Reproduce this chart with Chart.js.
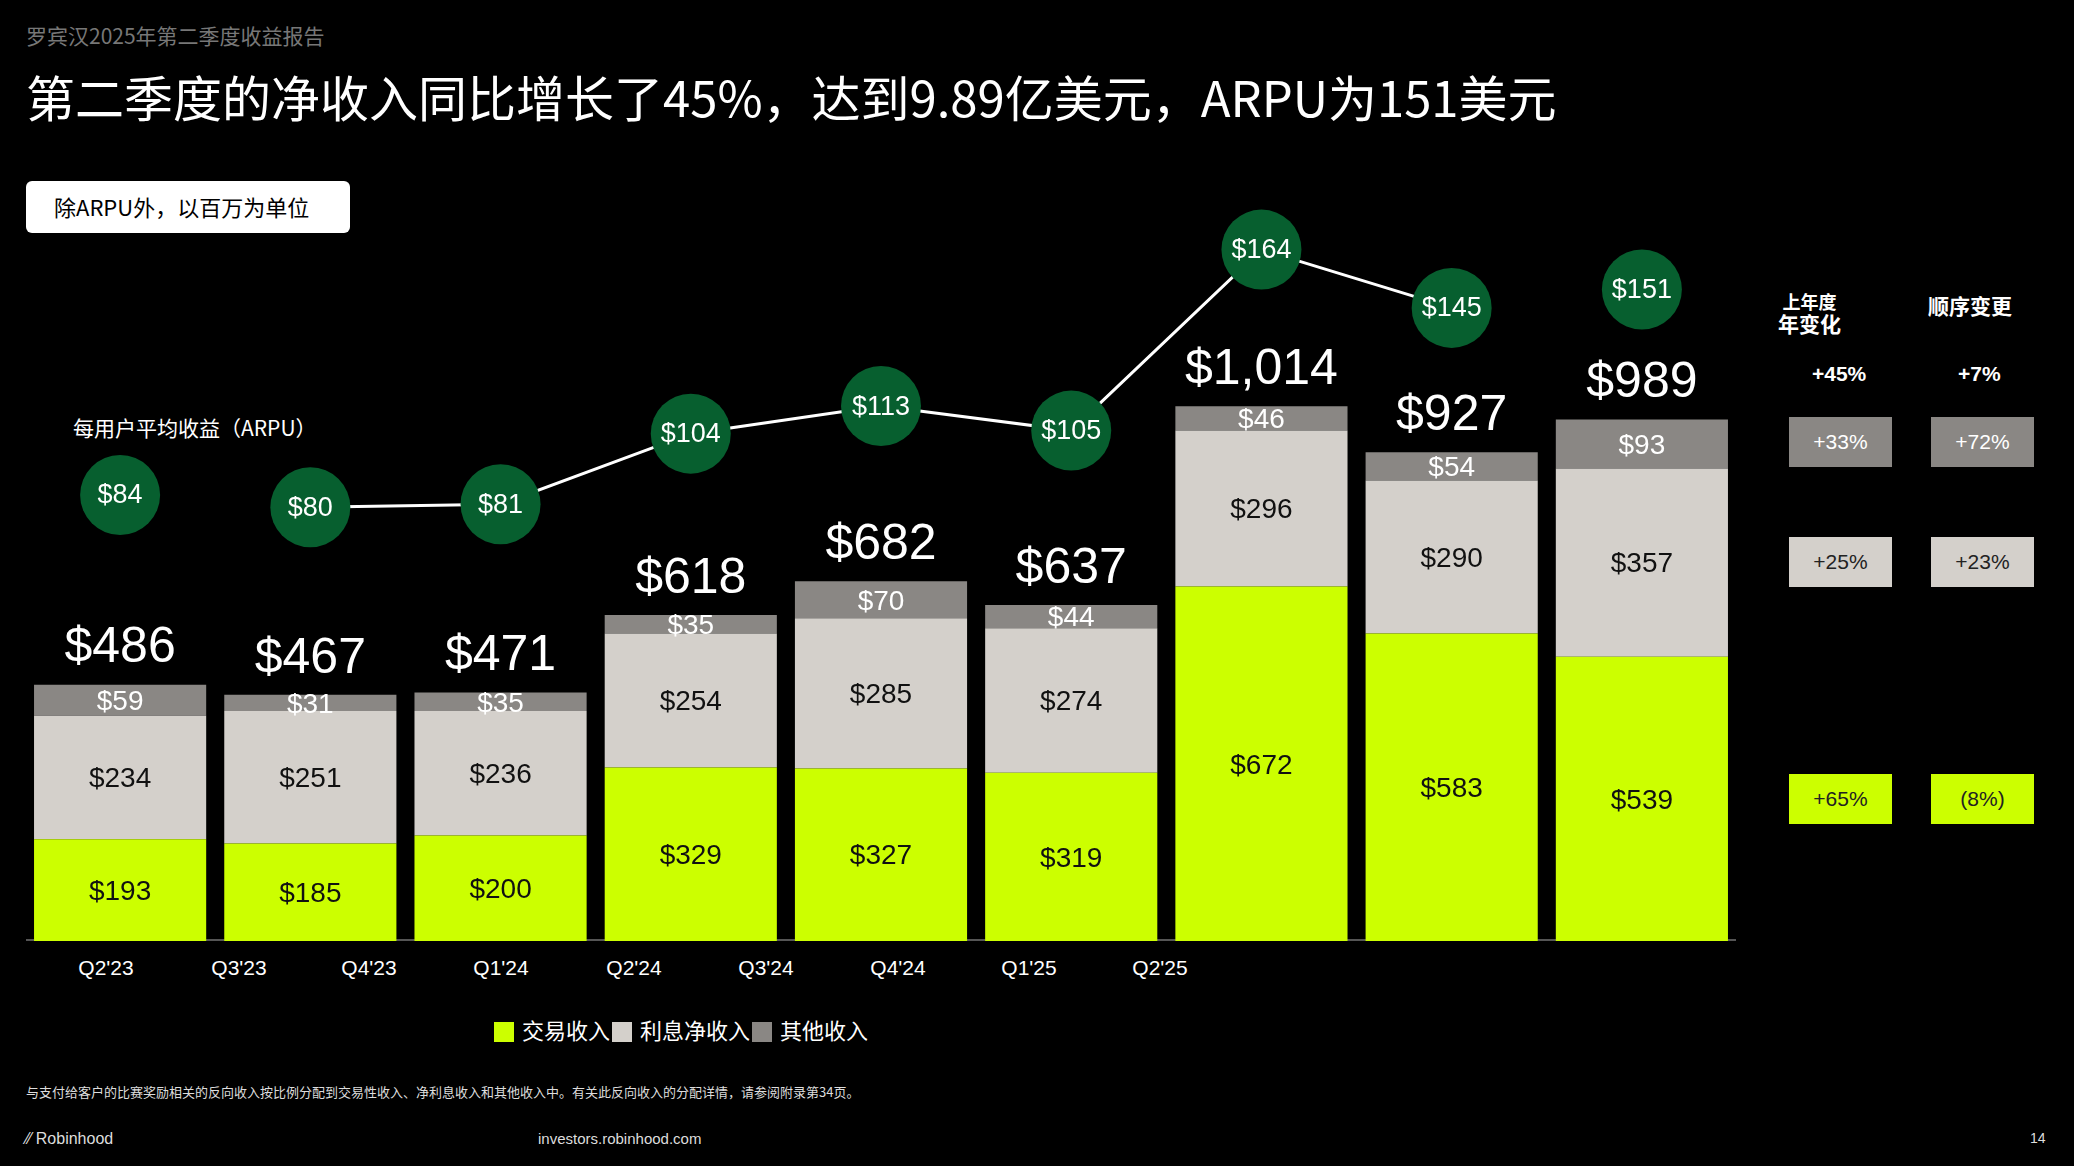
<!DOCTYPE html>
<html>
<head>
<meta charset="utf-8">
<script src="https://cdn.jsdelivr.net/npm/chart.js@4"></script>
<style>
  body { margin: 0; background: #000; width: 2074px; height: 1166px; overflow: hidden; position: relative;
         font-family: "Noto Sans CJK SC", "Noto Sans", sans-serif; color: #fff; }
  .abs { position: absolute; white-space: nowrap; }
  .tag { position: absolute; width: 103px; height: 50px; line-height: 50px; text-align: center; font-size: 21px; font-family: "Liberation Sans", sans-serif; }
  .xl { position: absolute; top: 956px; font-size: 21px; font-family: "Liberation Sans", sans-serif; transform: translateX(-50%); }
  .sw { display: inline-block; width: 20px; height: 20px; vertical-align: -3px; margin-right: 8px; }
</style>
</head>
<body>
<div class="abs" style="left:26px;top:20px;font-size:21px;color:#777;">罗宾汉2025年第二季度收益报告</div>
<div class="abs" style="left:26px;top:60px;font-size:49px;">第二季度的净收入同比增长了45%，达到9.89亿美元，ARPU为151美元</div>
<div class="abs" style="left:26px;top:181px;width:324px;height:52px;background:#fff;border-radius:6px;color:#000;font-size:22px;line-height:50px;text-indent:28px;">除ARPU外，以百万为单位</div>
<div class="abs" style="left:73px;top:412px;font-size:21px;">每用户平均收益（ARPU）</div>

<div class="abs" style="left:1778px;top:290px;font-size:18px;line-height:22px;text-align:center;font-weight:bold;">上年度<br><span style="font-size:21px">年变化</span></div>
<div class="abs" style="left:1928px;top:290px;font-size:21px;font-weight:bold;">顺序变更</div>
<div class="abs" style="left:1812px;top:362px;font-size:21px;font-weight:bold;font-family:'Liberation Sans';">+45%</div>
<div class="abs" style="left:1958px;top:362px;font-size:21px;font-weight:bold;font-family:'Liberation Sans';">+7%</div>
<div class="tag" style="left:1789px;top:417px;background:#8a8784;color:#fff;">+33%</div>
<div class="tag" style="left:1931px;top:417px;background:#8a8784;color:#fff;">+72%</div>
<div class="tag" style="left:1789px;top:537px;background:#d4d0cb;color:#222;">+25%</div>
<div class="tag" style="left:1931px;top:537px;background:#d4d0cb;color:#222;">+23%</div>
<div class="tag" style="left:1789px;top:774px;background:#ccff00;color:#222;">+65%</div>
<div class="tag" style="left:1931px;top:774px;background:#ccff00;color:#222;">(8%)</div>

<div class="abs" style="left:26px;top:939px;width:1710px;height:2px;background:#555;"></div>
<div id="xlabels"></div>

<div class="abs" style="left:494px;top:1013px;font-size:22px;">
  <span class="sw" style="background:#ccff00"></span>交易收入<span class="sw" style="background:#d4d0cb;margin-left:2px"></span>利息净收入<span class="sw" style="background:#8a8784;margin-left:2px"></span>其他收入
</div>

<div class="abs" style="left:26px;top:1082px;font-size:13px;color:#ddd;">与支付给客户的比赛奖励相关的反向收入按比例分配到交易性收入、净利息收入和其他收入中。有关此反向收入的分配详情，请参阅附录第34页。</div>
<div class="abs" style="left:26px;top:1130px;font-size:16px;color:#ddd;font-family:'Liberation Sans';">⁄⁄ Robinhood</div>
<div class="abs" style="left:538px;top:1130px;font-size:15px;color:#ddd;font-family:'Liberation Sans';">investors.robinhood.com</div>
<div class="abs" style="left:2030px;top:1130px;font-size:14px;color:#ddd;font-family:'Liberation Sans';">14</div>

<!-- canvas is 41px larger on each side: Chart.js pads the area for the big ARPU points -->
<div class="abs" style="left:-15px;top:159px;width:1792px;height:822px;"><canvas id="c"></canvas></div>

<script>
const quarters = ["Q2'23", "Q3'23", "Q4'23", "Q1'24", "Q2'24", "Q3'24", "Q4'24", "Q1'25", "Q2'25"];
const transaction = [193, 185, 200, 329, 327, 319, 672, 583, 539];
const netInterest = [234, 251, 236, 254, 285, 274, 296, 290, 357];
const other = [59, 31, 35, 35, 70, 44, 46, 54, 93];
const totals = [486, 467, 471, 618, 682, 637, 1014, 927, 989];
const arpu = [84, 80, 81, 104, 113, 105, 164, 145, 151];
const xLabelPos = [106, 239, 369, 501, 634, 766, 898, 1029, 1160];

// x labels sit offset from the bars in the original slide
document.getElementById('xlabels').innerHTML = quarters.map((q, i) =>
  `<div class="xl" style="left:${xLabelPos[i]}px">${q}</div>`).join('');

const fmt = v => '$' + v.toLocaleString('en-US');

const labelPlugin = {
  id: 'labels',
  afterDatasetsDraw(chart) {
    const ctx = chart.ctx;
    ctx.save();
    ctx.textAlign = 'center';
    ctx.textBaseline = 'middle';
    [0, 1, 2].forEach(d => {
      chart.getDatasetMeta(d).data.forEach((bar, i) => {
        const v = chart.data.datasets[d].data[i];
        ctx.fillStyle = d === 2 ? '#fff' : '#111';
        ctx.font = '28px "Liberation Sans", sans-serif';
        ctx.fillText(fmt(v), bar.x, (bar.y + bar.base) / 2 + 2);
      });
    });
    chart.getDatasetMeta(2).data.forEach((bar, i) => {
      ctx.fillStyle = '#fff';
      ctx.font = '50px "Liberation Sans", sans-serif';
      ctx.fillText(fmt(totals[i]), bar.x, bar.y - 36);
    });
    chart.getDatasetMeta(3).data.forEach((pt, i) => {
      ctx.fillStyle = '#fff';
      ctx.font = '27px "Liberation Sans", sans-serif';
      ctx.fillText(fmt(arpu[i]), pt.x, pt.y + 1);
    });
    ctx.restore();
  }
};

new Chart(document.getElementById('c'), {
  data: {
    labels: quarters,
    datasets: [
      { type: 'bar', label: '交易收入', data: transaction, backgroundColor: '#ccff00', stack: 's', order: 2 },
      { type: 'bar', label: '利息净收入', data: netInterest, backgroundColor: '#d4d0cb', stack: 's', order: 2 },
      { type: 'bar', label: '其他收入', data: other, backgroundColor: '#8a8784', stack: 's', order: 2 },
      {
        type: 'line', label: 'ARPU', data: arpu, yAxisID: 'y2', order: 1,
        borderColor: '#fff', borderWidth: 3,
        pointRadius: 40, pointBackgroundColor: '#075f2f', pointBorderWidth: 0,
        segment: { borderColor: c => (c.p0DataIndex === 0 || c.p0DataIndex === 7) ? 'rgba(0,0,0,0)' : '#fff' }
      }
    ]
  },
  options: {
    responsive: true,
    maintainAspectRatio: false,
    animation: false,
    layout: { padding: 0 },
    datasets: { bar: { barPercentage: 0.905, categoryPercentage: 1 } },
    plugins: { legend: { display: false }, tooltip: { enabled: false } },
    scales: {
      x: { display: false, stacked: true },
      y: { display: false, stacked: true, min: 0, max: 1407 },
      y2: { display: false, min: -61.4, max: 180.5 }
    }
  },
  plugins: [labelPlugin]
});
</script>
</body>
</html>
